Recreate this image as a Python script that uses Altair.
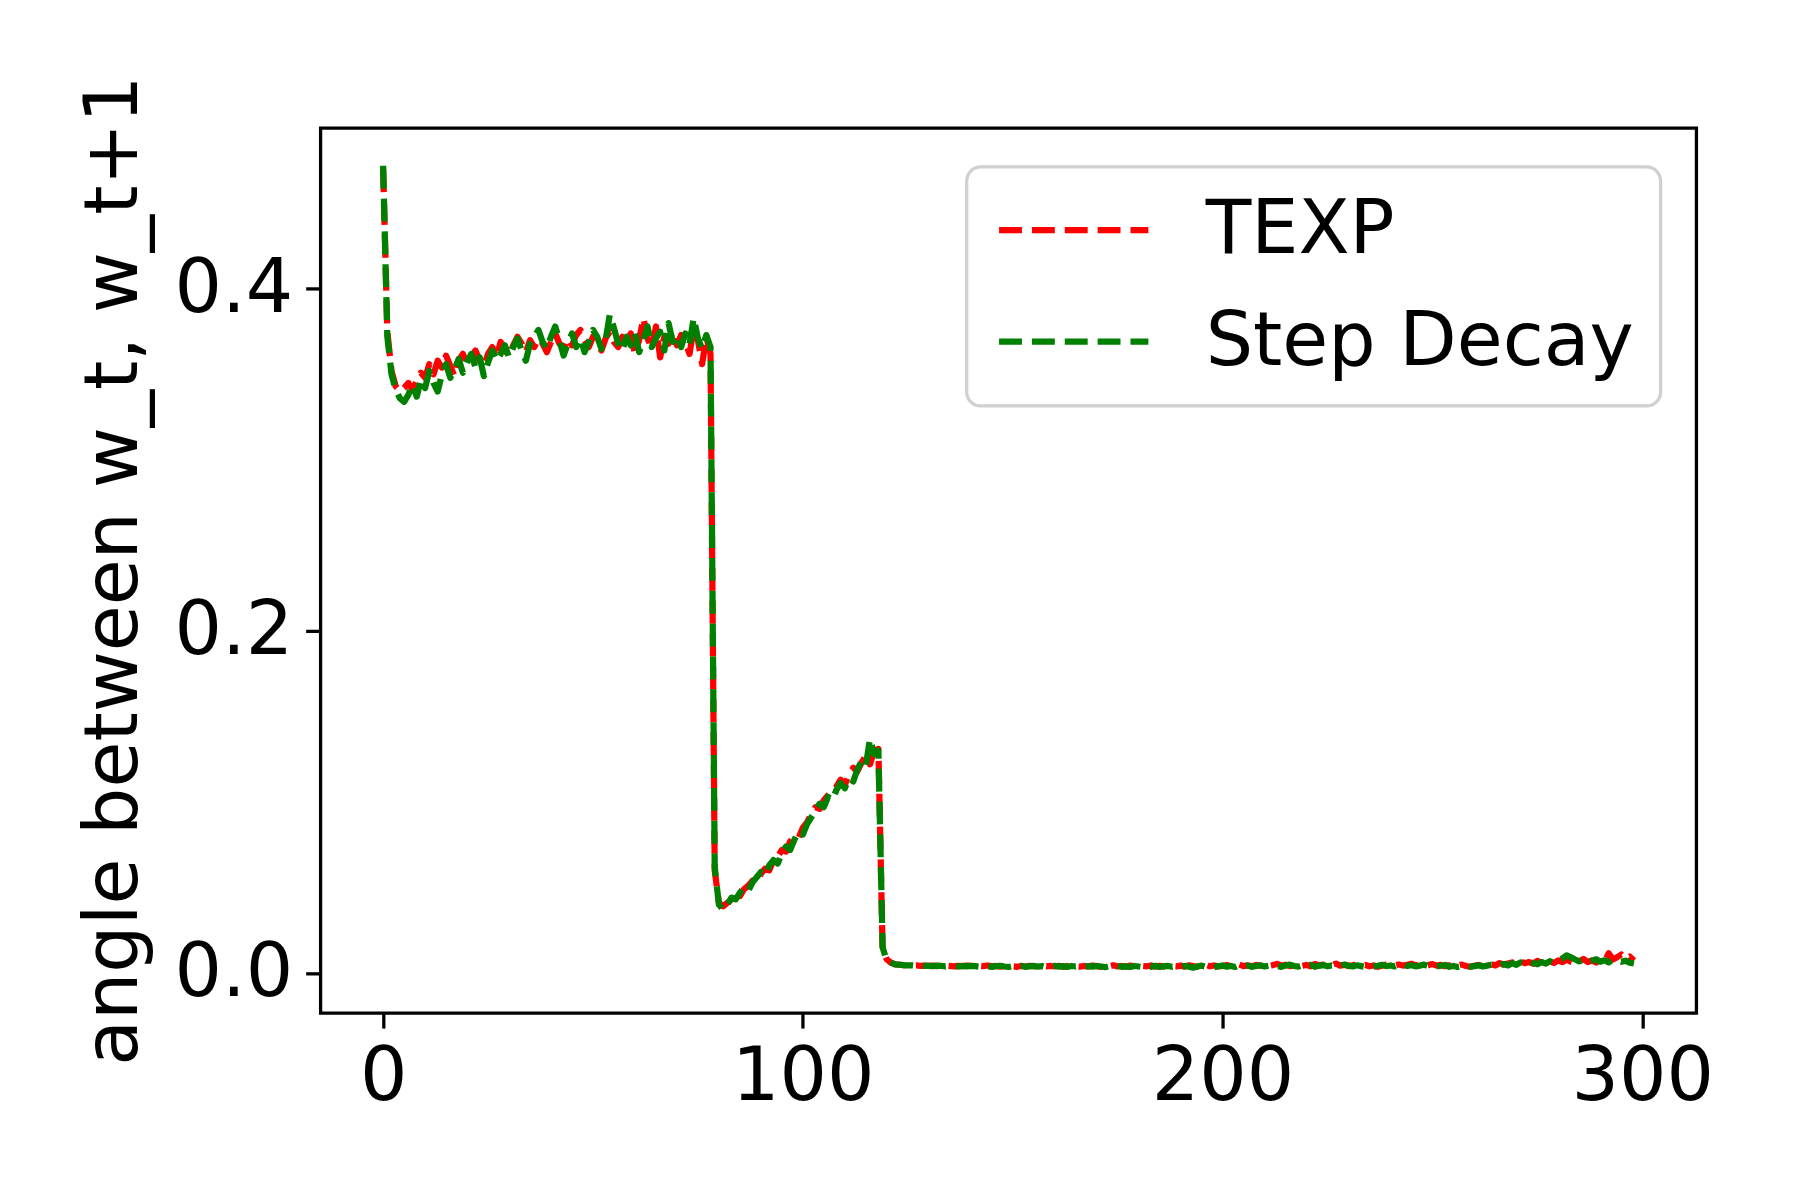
import altair as alt
import pandas as pd

series_names = ["TEXP", "Step Decay"]
series_colors = ["#ff0000", "#008000"]

texp_plateau = [
    0.470, 0.375, 0.352, 0.343, 0.340, 0.342, 0.345, 0.341, 0.346, 0.351,
    0.348, 0.356, 0.350, 0.358, 0.354, 0.361, 0.355, 0.349, 0.358, 0.362,
    0.356, 0.360, 0.364, 0.358, 0.355, 0.362, 0.366, 0.360, 0.369, 0.364,
    0.361, 0.367, 0.372, 0.368, 0.363, 0.370, 0.366, 0.371, 0.368, 0.363,
    0.369, 0.374, 0.368, 0.365, 0.371, 0.367, 0.373, 0.376, 0.370, 0.366,
    0.372, 0.368, 0.364, 0.371, 0.375, 0.369, 0.366, 0.372, 0.368, 0.374,
    0.362, 0.370, 0.383, 0.371, 0.365, 0.378, 0.360, 0.372, 0.368, 0.375,
    0.367, 0.373, 0.369, 0.362, 0.377, 0.370, 0.356, 0.372, 0.362,
]
texp_rise = [
    0.060, 0.041, 0.039, 0.041, 0.043, 0.046, 0.045, 0.049, 0.051, 0.054,
    0.053, 0.058, 0.061, 0.060, 0.066, 0.068, 0.072, 0.071, 0.077, 0.080,
    0.079, 0.085, 0.088, 0.093, 0.097, 0.096, 0.101, 0.104, 0.106, 0.109,
    0.113, 0.110, 0.116, 0.120, 0.118, 0.123, 0.127, 0.122, 0.130, 0.131,
    0.014, 0.008, 0.006, 0.005,
]
texp_tail = [
    0.0048, 0.0045, 0.0046, 0.0043, 0.0044, 0.0042, 0.0043,
    0.0041, 0.0043, 0.0040, 0.0042, 0.0044, 0.0041, 0.0039, 0.0042, 0.0040, 0.0043,
    0.0041, 0.0038, 0.0042, 0.0040, 0.0044, 0.0039, 0.0041, 0.0037, 0.0040, 0.0043,
    0.0039, 0.0036, 0.0041, 0.0038, 0.0042, 0.0040, 0.0037, 0.0043, 0.0039, 0.0041,
    0.0038, 0.0042, 0.0036, 0.0040, 0.0044, 0.0039, 0.0037, 0.0041, 0.0038, 0.0043,
    0.0040, 0.0036, 0.0042, 0.0039, 0.0045, 0.0038, 0.0041, 0.0037, 0.0043, 0.0040,
    0.0036, 0.0041, 0.0039, 0.0044, 0.0037, 0.0042, 0.0038, 0.0035, 0.0041, 0.0039,
    0.0043, 0.0037, 0.0045, 0.0040, 0.0036, 0.0042, 0.0048, 0.0039, 0.0044, 0.0038,
    0.0041, 0.0046, 0.0039, 0.0043, 0.0049, 0.0040, 0.0045, 0.0038, 0.0047, 0.0042,
    0.0050, 0.0041, 0.0046, 0.0053, 0.0043, 0.0048, 0.0040, 0.0045, 0.0051, 0.0042,
    0.0047, 0.0039, 0.0052, 0.0044, 0.0049, 0.0041, 0.0046, 0.0055, 0.0043, 0.0048,
    0.0040, 0.0045, 0.0051, 0.0042, 0.0047, 0.0039, 0.0044, 0.0036, 0.0042, 0.0049,
    0.0058, 0.0045, 0.0050, 0.0043, 0.0048, 0.0054, 0.0044, 0.0049, 0.0041, 0.0046,
    0.0052, 0.0043, 0.0047, 0.0040, 0.0045, 0.0038, 0.0043, 0.0049, 0.0041, 0.0036,
    0.0042, 0.0047, 0.0039, 0.0045, 0.0051, 0.0044, 0.0058, 0.0049, 0.0055, 0.0062,
    0.0050, 0.0068, 0.0057, 0.0064, 0.0054, 0.0071, 0.0060, 0.0052, 0.0066, 0.0059,
    0.0074, 0.0063, 0.0078, 0.0065, 0.0057, 0.0070, 0.0082, 0.0064, 0.0073, 0.0061,
    0.0087, 0.0068, 0.0115, 0.0079, 0.0092, 0.0108, 0.0083, 0.0097, 0.0072,
]

step_plateau = [
    0.472, 0.372, 0.350, 0.341, 0.336, 0.334, 0.338, 0.344, 0.337, 0.347,
    0.342, 0.352, 0.345, 0.340, 0.350, 0.356, 0.348, 0.353, 0.359, 0.351,
    0.357, 0.362, 0.354, 0.360, 0.349, 0.357, 0.364, 0.358, 0.362, 0.367,
    0.360, 0.366, 0.371, 0.364, 0.358, 0.368, 0.372, 0.376, 0.369, 0.365,
    0.372, 0.378, 0.370, 0.361, 0.368, 0.374, 0.366, 0.371, 0.363, 0.369,
    0.376, 0.372, 0.365, 0.370, 0.385, 0.377, 0.368, 0.364, 0.372, 0.367,
    0.374, 0.363, 0.370, 0.378, 0.366, 0.371, 0.375, 0.364, 0.380, 0.369,
    0.373, 0.366, 0.374, 0.368, 0.383, 0.371, 0.365, 0.373, 0.366,
]
step_rise = [
    0.062, 0.040, 0.037, 0.040, 0.044, 0.043, 0.047, 0.050, 0.048, 0.053,
    0.056, 0.059, 0.057, 0.063, 0.066, 0.064, 0.070, 0.074, 0.072, 0.078,
    0.083, 0.081, 0.087, 0.091, 0.095, 0.099, 0.097, 0.103, 0.101, 0.107,
    0.111, 0.108, 0.114, 0.112, 0.119, 0.124, 0.121, 0.137, 0.128, 0.130,
    0.015, 0.007, 0.006, 0.005,
]
step_tail = [
    0.0049, 0.0046, 0.0044, 0.0045, 0.0042, 0.0043, 0.0041,
    0.0042, 0.0040, 0.0043, 0.0041, 0.0039, 0.0042, 0.0040, 0.0038, 0.0041, 0.0039,
    0.0042, 0.0040, 0.0037, 0.0041, 0.0039, 0.0036, 0.0040, 0.0042, 0.0038, 0.0035,
    0.0040, 0.0038, 0.0042, 0.0036, 0.0039, 0.0041, 0.0037, 0.0040, 0.0034, 0.0039,
    0.0042, 0.0037, 0.0040, 0.0035, 0.0041, 0.0038, 0.0043, 0.0036, 0.0040, 0.0037,
    0.0041, 0.0038, 0.0034, 0.0040, 0.0037, 0.0042, 0.0036, 0.0039, 0.0035, 0.0041,
    0.0038, 0.0034, 0.0040, 0.0036, 0.0042, 0.0035, 0.0039, 0.0041, 0.0036, 0.0040,
    0.0035, 0.0041, 0.0037, 0.0031, 0.0038, 0.0043, 0.0036, 0.0040, 0.0034, 0.0039,
    0.0044, 0.0037, 0.0041, 0.0035, 0.0046, 0.0039, 0.0043, 0.0036, 0.0041, 0.0045,
    0.0038, 0.0043, 0.0047, 0.0040, 0.0036, 0.0044, 0.0049, 0.0041, 0.0037, 0.0045,
    0.0040, 0.0048, 0.0036, 0.0042, 0.0046, 0.0039, 0.0044, 0.0037, 0.0041, 0.0049,
    0.0043, 0.0038, 0.0045, 0.0040, 0.0035, 0.0031, 0.0037, 0.0042, 0.0048, 0.0040,
    0.0044, 0.0038, 0.0046, 0.0052, 0.0041, 0.0045, 0.0039, 0.0043, 0.0049, 0.0040,
    0.0044, 0.0038, 0.0042, 0.0047, 0.0036, 0.0041, 0.0035, 0.0039, 0.0044, 0.0037,
    0.0040, 0.0045, 0.0038, 0.0043, 0.0048, 0.0041, 0.0046, 0.0052, 0.0044, 0.0057,
    0.0048, 0.0062, 0.0053, 0.0066, 0.0058, 0.0051, 0.0064, 0.0055, 0.0069, 0.0061,
    0.0072, 0.0086, 0.0103, 0.0092, 0.0079, 0.0068, 0.0075, 0.0063, 0.0071, 0.0080,
    0.0066, 0.0074, 0.0062, 0.0078, 0.0070, 0.0065, 0.0072, 0.0060, 0.0055,
]

x_ticks = [0, 100, 200, 300]
y_ticks = [0.0, 0.2, 0.4]

texp = texp_plateau + texp_rise + texp_tail
step = step_plateau + step_rise + step_tail

df_texp = pd.DataFrame({"epoch": list(range(len(texp))), "value": texp, "series": series_names[0]})
df_step = pd.DataFrame({"epoch": list(range(len(step))), "value": step, "series": series_names[1]})

FONT = "DejaVu Sans"
FS = 75

x_enc = alt.X(
    "epoch:Q",
    scale=alt.Scale(domain=[-14.9, 312.9], nice=False, zero=False),
    axis=alt.Axis(values=x_ticks, title=None, format="d"),
)
y_enc = alt.Y(
    "value:Q",
    scale=alt.Scale(domain=[-0.0235, 0.494], nice=False, zero=False),
    axis=alt.Axis(
        values=y_ticks, format=".1f",
        title="angle between w_t, w_t+1",
        titleFont=FONT, titleFontSize=FS, titleFontWeight="normal", titleColor="black",
        titleAngle=270, titleX=-208, titleY=444, titleAlign="center", titleBaseline="middle",
    ),
)
color_enc = alt.Color(
    "series:N",
    scale=alt.Scale(domain=series_names, range=series_colors),
    legend=alt.Legend(
        title=None, orient="none", legendX=649, legendY=39,
        symbolType="M-4,0H4", symbolSize=1406, symbolStrokeWidth=6.25,
        symbolDash=[23, 10], symbolFillColor="transparent", symbolOffset=44,
        labelFont=FONT, labelFontSize=FS, labelColor="black",
        labelOffset=95, labelLimit=2000, padding=26, rowPadding=36,
        fillColor="white", strokeColor="#d0d0d0", cornerRadius=14,
    ),
)

line_kw = dict(strokeWidth=6.25, strokeDash=[23, 10], strokeCap="butt", strokeJoin="round")

l1 = alt.Chart(df_texp).mark_line(**line_kw).encode(x=x_enc, y=y_enc, color=color_enc)
l2 = alt.Chart(df_step).mark_line(**line_kw).encode(x=x_enc, y=y_enc, color=color_enc)

chart = (
    alt.layer(l1, l2)
    .properties(
        width=1382, height=889,
        autosize=alt.AutoSizeParams(type="none"),
        padding={"left": 314, "top": 118, "right": 96, "bottom": 185},
        background="white",
    )
    .configure_view(stroke="black", strokeWidth=3.3)
    .configure_axis(
        grid=False, domain=False,
        labelFont=FONT, labelFontSize=FS, labelColor="black",
        tickColor="black", tickWidth=3.3, tickSize=15, labelPadding=13,
    )
    .configure_legend(strokeWidth=3.3)
)

chart.save("out.html", embed_options={"renderer": "svg", "actions": False})
